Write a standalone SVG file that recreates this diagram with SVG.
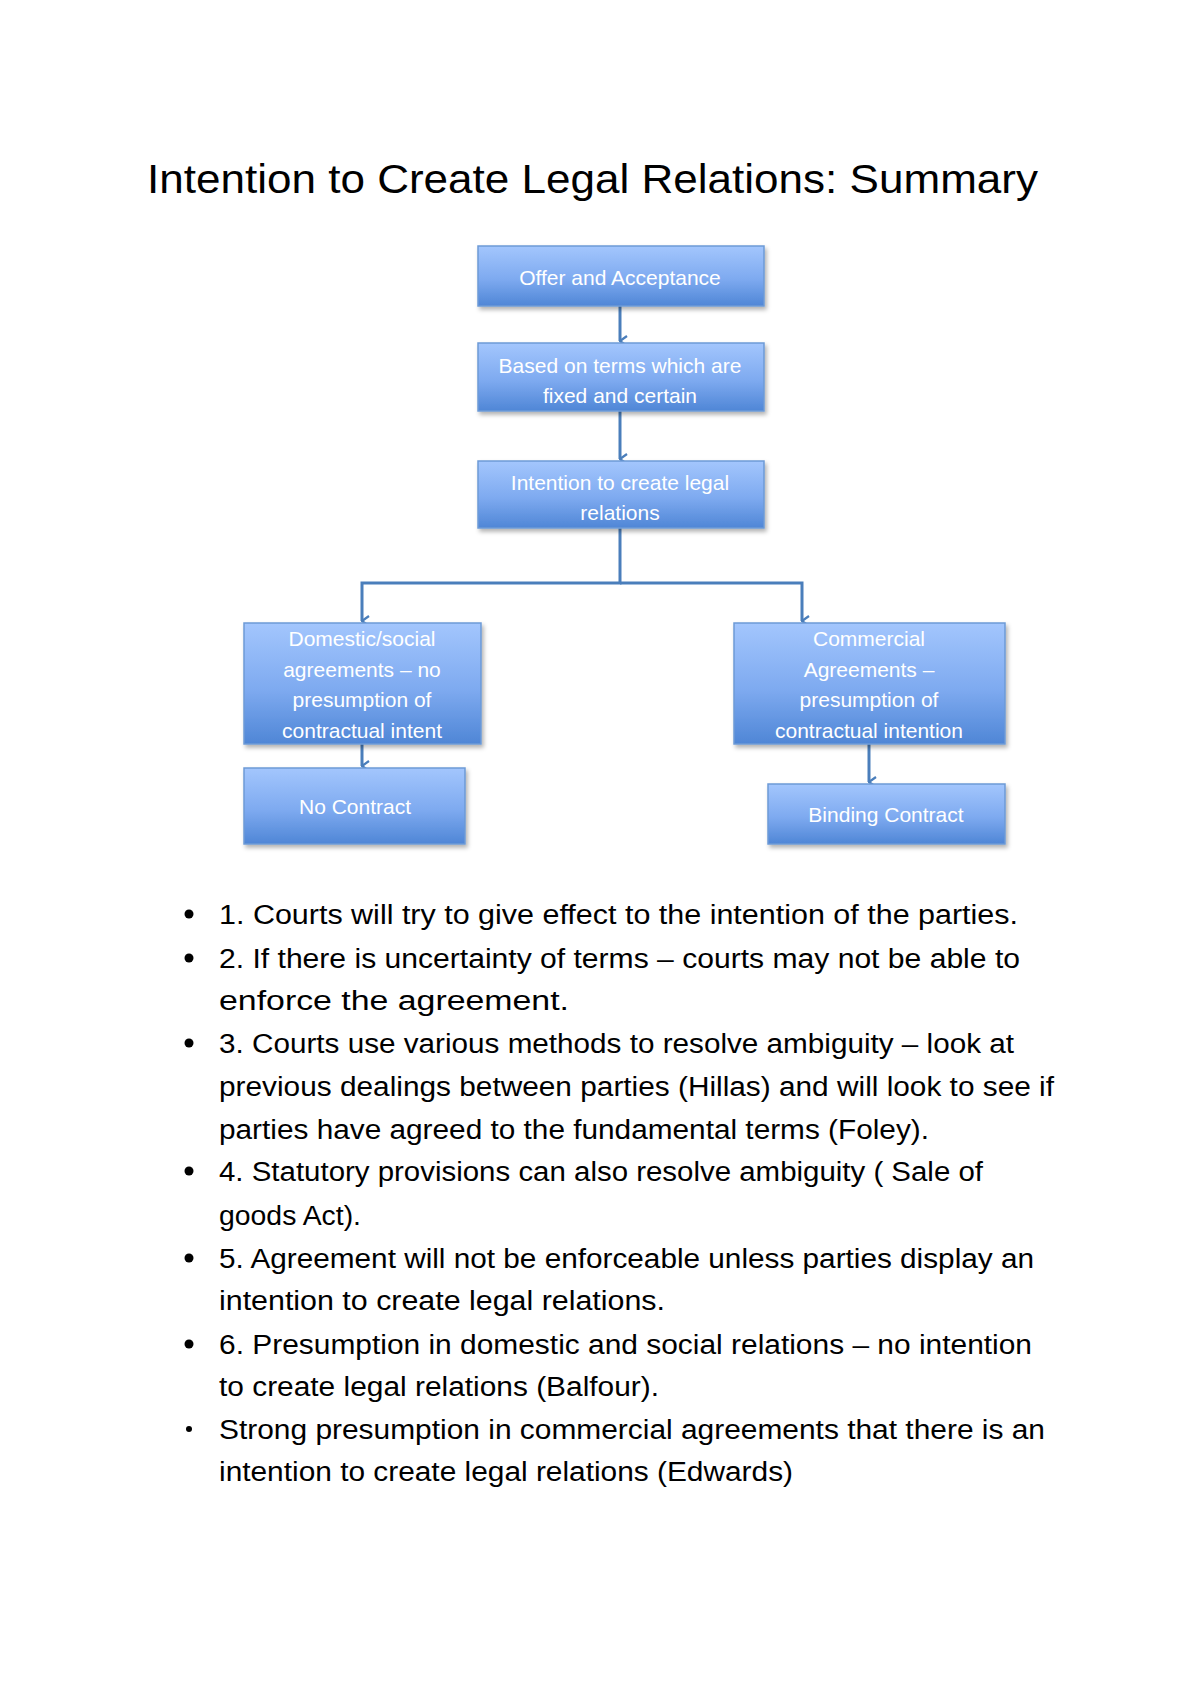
<svg xmlns="http://www.w3.org/2000/svg" width="1200" height="1698" viewBox="0 0 1200 1698">
<defs>
<linearGradient id="g" x1="0" y1="0" x2="0" y2="1"><stop offset="0" stop-color="#a3c6fd"/><stop offset="0.55" stop-color="#7eaaf0"/><stop offset="1" stop-color="#4f86d6"/></linearGradient>
<marker id="a" markerWidth="12" markerHeight="10" refX="6" refY="9" orient="auto-start-reverse" markerUnits="userSpaceOnUse" viewBox="0 0 12 10"><path d="M1 2 L6 9 L11 2" fill="none" stroke="#4a7ebb" stroke-width="2.2"/></marker>
<filter id="s" x="-5%" y="-5%" width="115%" height="125%"><feDropShadow dx="2" dy="3" stdDeviation="2" flood-color="#000" flood-opacity="0.3"/></filter>
</defs>
<style>
.b{fill:url(#g);stroke:#6d9ad6;stroke-width:1.5;filter:url(#s)}
.t{font-family:"Liberation Sans",Arial,sans-serif;font-size:21px;fill:#fff;text-anchor:middle}
.c{fill:none;stroke:#4a7ebb;stroke-width:3}
.p{font-family:"Liberation Sans",Arial,sans-serif;font-size:27px;fill:#000}
</style>
<rect width="1200" height="1698" fill="#fff"/>
<text x="147" y="193" font-family="Liberation Sans,Arial,sans-serif" font-size="40" textLength="891" lengthAdjust="spacingAndGlyphs">Intention to Create Legal Relations: Summary</text>
<g id="connectors">
<path class="c" d="M620 306 V341" marker-end="url(#a)"/>
<path class="c" d="M620 411 V459" marker-end="url(#a)"/>
<path class="c" d="M620 528 V583 H362 V621" marker-end="url(#a)"/>
<path class="c" d="M620 583 H802 V621" marker-end="url(#a)"/>
<path class="c" d="M362 744 V766" marker-end="url(#a)"/>
<path class="c" d="M869 744 V782" marker-end="url(#a)"/>
</g>
<g id="n1"><rect class="b" x="478" y="246" width="286" height="60"/><text class="t" x="620" y="285">Offer and Acceptance</text></g>
<g id="n2"><rect class="b" x="478" y="343" width="286" height="68"/><text class="t" x="620" y="373">Based on terms which are</text><text class="t" x="620" y="403">fixed and certain</text></g>
<g id="n3"><rect class="b" x="478" y="461" width="286" height="67"/><text class="t" x="620" y="490">Intention to create  legal</text><text class="t" x="620" y="520">relations</text></g>
<g id="n4"><rect class="b" x="244" y="623" width="237" height="121"/><text class="t" x="362" y="646">Domestic/social</text><text class="t" x="362" y="677">agreements – no</text><text class="t" x="362" y="707">presumption of</text><text class="t" x="362" y="738">contractual intent</text></g>
<g id="n5"><rect class="b" x="734" y="623" width="271" height="121"/><text class="t" x="869" y="646">Commercial</text><text class="t" x="869" y="677">Agreements –</text><text class="t" x="869" y="707">presumption of</text><text class="t" x="869" y="738">contractual intention</text></g>
<g id="n6"><rect class="b" x="244" y="768" width="221" height="76"/><text class="t" x="355" y="814">No Contract</text></g>
<g id="n7"><rect class="b" x="768" y="784" width="237" height="60"/><text class="t" x="886" y="822">Binding Contract</text></g>
<g id="bullets">
<circle cx="189" cy="914" r="4.5"/><circle cx="189" cy="958" r="4.5"/><circle cx="189" cy="1043" r="4.5"/><circle cx="189" cy="1171" r="4.5"/><circle cx="189" cy="1258" r="4.5"/><circle cx="189" cy="1344" r="4.5"/><circle cx="189" cy="1429" r="3"/>
<text class="p" x="219" y="924" textLength="799" lengthAdjust="spacingAndGlyphs">1. Courts will try to give effect to the intention of the parties.</text>
<text class="p" x="219" y="968" textLength="801" lengthAdjust="spacingAndGlyphs">2. If there is uncertainty of terms – courts may not be able to</text>
<text class="p" x="219" y="1010" textLength="350" lengthAdjust="spacingAndGlyphs">enforce the agreement.</text>
<text class="p" x="219" y="1053" textLength="795" lengthAdjust="spacingAndGlyphs">3. Courts use various methods to resolve ambiguity – look at</text>
<text class="p" x="219" y="1096" textLength="835" lengthAdjust="spacingAndGlyphs">previous dealings between parties (Hillas) and will look to see if</text>
<text class="p" x="219" y="1139" textLength="710" lengthAdjust="spacingAndGlyphs">parties have agreed to the fundamental terms (Foley).</text>
<text class="p" x="219" y="1181" textLength="764" lengthAdjust="spacingAndGlyphs">4. Statutory provisions can also resolve ambiguity ( Sale of</text>
<text class="p" x="219" y="1225" textLength="142" lengthAdjust="spacingAndGlyphs">goods Act).</text>
<text class="p" x="219" y="1268" textLength="815" lengthAdjust="spacingAndGlyphs">5. Agreement will not be enforceable unless parties display an</text>
<text class="p" x="219" y="1310" textLength="446" lengthAdjust="spacingAndGlyphs">intention to create legal relations.</text>
<text class="p" x="219" y="1354" textLength="813" lengthAdjust="spacingAndGlyphs">6. Presumption in domestic and social relations – no intention</text>
<text class="p" x="219" y="1396" textLength="440" lengthAdjust="spacingAndGlyphs">to create legal relations (Balfour).</text>
<text class="p" x="219" y="1439" textLength="826" lengthAdjust="spacingAndGlyphs">Strong presumption in commercial agreements that there is an</text>
<text class="p" x="219" y="1481" textLength="574" lengthAdjust="spacingAndGlyphs">intention to create legal relations (Edwards)</text>
</g>
</svg>
